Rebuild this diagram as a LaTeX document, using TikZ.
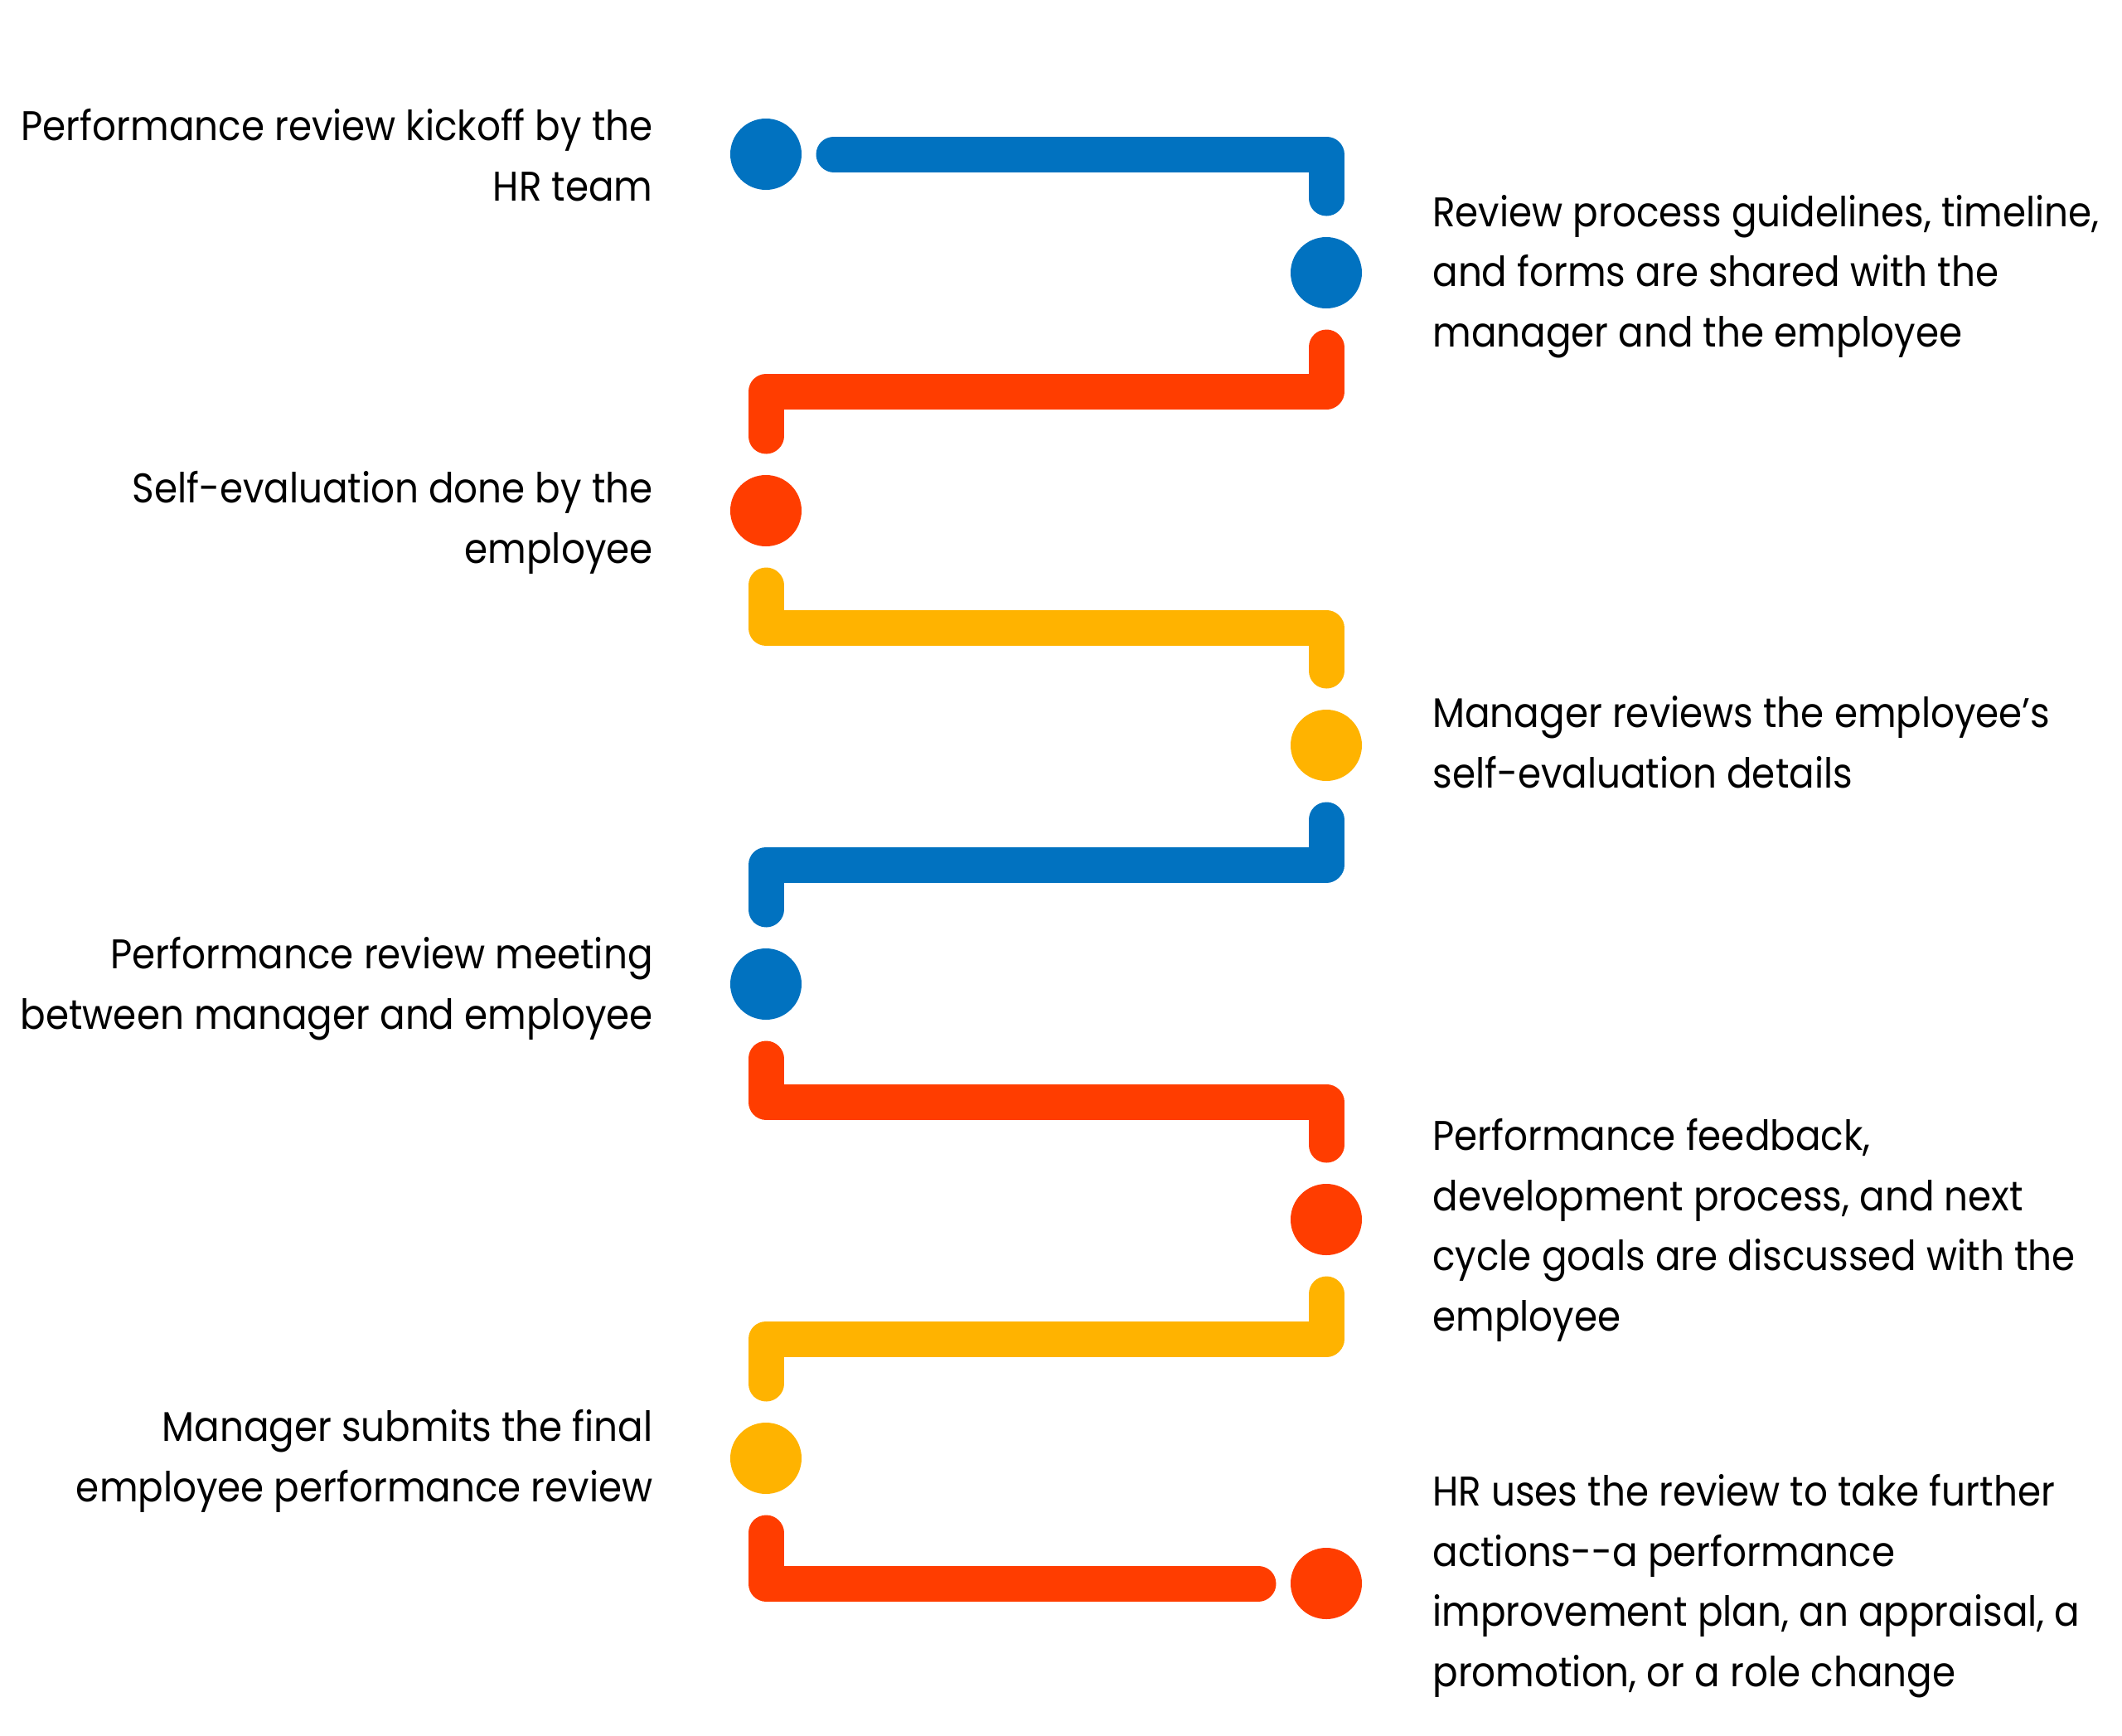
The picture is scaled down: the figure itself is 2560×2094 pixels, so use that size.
\documentclass[tikz,border=0pt]{standalone}
\usepackage{fontspec}
\setmainfont[FakeStretch=0.905]{Poppins}
\usetikzlibrary{calc}
\definecolor{cblue}{RGB}{1,114,192}
\definecolor{cred}{RGB}{255,61,0}
\definecolor{cyellow}{RGB}{255,179,0}
\tikzset{
  dotnode/.style={circle,minimum size=43pt,inner sep=0pt,fill=#1},
  conn/.style={line width=21.5pt,line cap=round,line join=round,draw=#1},
  ltext/.style={anchor=base east,align=right,inner sep=0pt,font=\fontsize{25}{36.25}\selectfont},
  rtext/.style={anchor=base west,align=left,inner sep=0pt,font=\fontsize{25}{36.25}\selectfont}
}
\begin{document}
\begin{tikzpicture}[x=0.5pt,y=-0.5pt]
\useasboundingbox (0,0) rectangle (2560,2094);
\node[dotnode=cblue] (d1) at (924,186) {};
\node[dotnode=cblue] (d2) at (1600,329) {};
\node[dotnode=cred] (d3) at (924,616) {};
\node[dotnode=cyellow] (d4) at (1600,899) {};
\node[dotnode=cblue] (d5) at (924,1187) {};
\node[dotnode=cred] (d6) at (1600,1471) {};
\node[dotnode=cyellow] (d7) at (924,1759) {};
\node[dotnode=cred] (d8) at (1600,1910) {};
\coordinate (m2) at ($(d2)!0.5!(d3)$);
\coordinate (m3) at ($(d3)!0.5!(d4)$);
\coordinate (m4) at ($(d4)!0.5!(d5)$);
\coordinate (m5) at ($(d5)!0.5!(d6)$);
\coordinate (m6) at ($(d6)!0.5!(d7)$);
\draw[conn=cblue] ($(d1)+(82,0)$) -| ($(d2)+(0,-90)$);
\draw[conn=cred] ($(d2)+(0,90)$) |- (m2) -| ($(d3)+(0,-90)$);
\draw[conn=cyellow] ($(d3)+(0,90)$) |- (m3) -| ($(d4)+(0,-90)$);
\draw[conn=cblue] ($(d4)+(0,90)$) |- (m4) -| ($(d5)+(0,-90)$);
\draw[conn=cred] ($(d5)+(0,90)$) |- (m5) -| ($(d6)+(0,-90)$);
\draw[conn=cyellow] ($(d6)+(0,90)$) |- (m6) -| ($(d7)+(0,-90)$);
\draw[conn=cred] ($(d7)+(0,90)$) |- ($(d8)+(-82,0)$);
\node[ltext] (t1) at (788,242) {Performance review kickoff by the\\HR team};
\node[ltext] (t3) at (788,679) {Self-evaluation done by the\\employee};
\node[ltext] (t5) at (788,1241) {Performance review meeting\\between manager and employee};
\node[ltext] (t7) at (788,1811) {Manager submits the final\\employee performance review};
\node[rtext] (t2) at (1728,418) {Review process guidelines, timeline,\\and forms are shared with the\\manager and the employee};
\node[rtext] (t4) at (1728,950) {Manager reviews the employee’s\\self-evaluation details};
\node[rtext] (t6) at (1728,1605) {Performance feedback,\\development process, and next\\cycle goals are discussed with the\\employee};
\node[rtext] (t8) at (1728,2034) {HR uses the review to take further\\actions-{}-a performance\\improvement plan, an appraisal, a\\promotion, or a role change};
\end{tikzpicture}
\end{document}
